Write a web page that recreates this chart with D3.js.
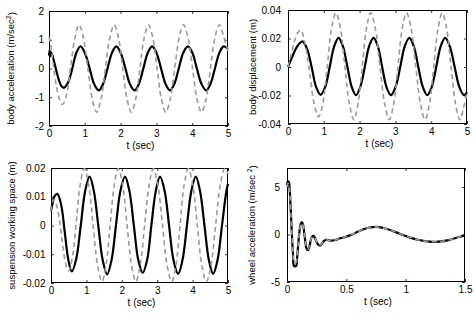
<!DOCTYPE html>
<html><head><meta charset="utf-8">
<script src="https://cdn.jsdelivr.net/npm/d3@7"></script>
<style>body{margin:0;background:#fff}svg{display:block}text{font-family:"Liberation Sans",Arial,sans-serif;fill:#000}</style>
</head><body><svg id="c" width="474" height="315"></svg>
<script>
// ---------- data ----------
const xTicks5 = [0,1,2,3,4,5];
const xTicks15 = [0,0.5,1,1.5];
const yTicksAcc = [-2,-1,0,1,2];
const yTicksDisp = [-0.04,-0.02,0,0.02,0.04];
const yTicksSws = [-0.02,-0.01,0,0.01,0.02];
const yTicksWheel = [-5,0,5];

const accBlack = [[0,0.45],[0.015,0.62],[0.03,0.42],[0.045,0.58],[0.06,0.48],[0.08,0.52],[0.12,0.35],[0.2,-0.05],[0.28,-0.42],[0.35,-0.62],[0.42,-0.67],
[0.535,-0.48],[0.65,0],[0.765,0.55],[0.88,0.77],
[1.0,0.55],[1.135,0],[1.26,-0.54],[1.39,-0.76],
[1.51,-0.54],[1.635,0],[1.76,0.55],[1.88,0.77],
[2.0,0.55],[2.135,0],[2.26,-0.54],[2.39,-0.76],
[2.51,-0.54],[2.635,0],[2.76,0.55],[2.88,0.77],
[3.0,0.55],[3.13,0],[3.255,-0.54],[3.38,-0.76],
[3.5,-0.54],[3.625,0],[3.75,0.55],[3.88,0.77],
[4.005,0.55],[4.13,0],[4.26,-0.54],[4.39,-0.76],
[4.51,-0.54],[4.635,0],[4.76,0.55],[4.88,0.77],
[5,0.68]];
const accGray = [[0,1.1],[0.03,0.95],[0.08,0.55],[0.15,-0.15],[0.22,-0.7],[0.3,-1.1],[0.38,-1.25],
[0.495,-0.88],[0.61,0.1],[0.725,1.07],[0.84,1.52],
[0.96,1.07],[1.085,0],[1.21,-1.07],[1.33,-1.52],
[1.455,-1.07],[1.575,0],[1.70,1.07],[1.82,1.52],
[1.94,1.07],[2.06,0],[2.18,-1.07],[2.30,-1.52],
[2.42,-1.07],[2.54,0],[2.66,1.07],[2.78,1.52],
[2.90,1.07],[3.02,0],[3.14,-1.07],[3.26,-1.52],
[3.385,-1.07],[3.51,0],[3.635,1.07],[3.76,1.52],
[3.885,1.07],[4.01,0],[4.135,-1.07],[4.26,-1.52],
[4.385,-1.07],[4.51,0],[4.635,1.07],[4.76,1.52],
[4.88,1.1],[5,0.6]];

const dispBlack = [[0,0],[0.1,0.006],[0.2,0.012],[0.3,0.016],[0.41,0.018],
[0.535,0.0125],[0.66,0],[0.785,-0.014],[0.91,-0.0195],
[1.04,-0.014],[1.165,0],[1.29,0.0145],[1.415,0.0205],
[1.535,0.0145],[1.66,0],[1.78,-0.014],[1.90,-0.0198],
[2.02,-0.014],[2.145,0],[2.265,0.0145],[2.39,0.0205],
[2.51,0.0145],[2.63,0],[2.75,-0.014],[2.875,-0.0198],
[3.005,-0.014],[3.135,0],[3.26,0.0145],[3.39,0.0205],
[3.515,0.0145],[3.64,0],[3.765,-0.014],[3.89,-0.0198],
[4.015,-0.014],[4.14,0],[4.265,0.0145],[4.39,0.0205],
[4.52,0.0145],[4.655,0],[4.785,-0.014],[4.915,-0.0198],
[5,-0.0175]];
const dispGray = [[0,0],[0.09,0.009],[0.18,0.018],[0.27,0.024],[0.355,0.026],
[0.48,0.016],[0.60,-0.003],[0.725,-0.025],[0.85,-0.035],
[0.97,-0.026],[1.095,0],[1.215,0.027],[1.34,0.038],
[1.465,0.027],[1.59,0],[1.715,-0.026],[1.84,-0.037],
[1.955,-0.026],[2.075,0],[2.19,0.027],[2.31,0.038],
[2.44,0.027],[2.57,0],[2.70,-0.026],[2.83,-0.037],
[2.95,-0.026],[3.07,0],[3.19,0.027],[3.31,0.038],
[3.44,0.027],[3.57,0],[3.70,-0.026],[3.83,-0.037],
[3.95,-0.026],[4.07,0],[4.19,0.027],[4.31,0.038],
[4.43,0.027],[4.555,0],[4.68,-0.026],[4.80,-0.037],
[4.92,-0.027],[5,-0.018]];

const swsBlack = [[0,0.005],[0.05,0.008],[0.1,0.0102],[0.18,0.011],[0.29,0.007],[0.39,-0.0025],[0.49,-0.012],[0.59,-0.016],
[0.715,-0.0115],[0.84,0],[0.965,0.012],[1.09,0.017],
[1.21,0.012],[1.335,0],[1.46,-0.012],[1.585,-0.017],
[1.71,-0.012],[1.835,0],[1.96,0.012],[2.09,0.017],
[2.215,0.012],[2.34,0],[2.465,-0.012],[2.59,-0.0165],
[2.715,-0.012],[2.835,0],[2.96,0.012],[3.08,0.017],
[3.21,0.012],[3.335,0],[3.46,-0.012],[3.59,-0.0168],
[3.715,-0.012],[3.84,0],[3.965,0.012],[4.09,0.017],
[4.21,0.012],[4.335,0],[4.46,-0.012],[4.58,-0.0168],
[4.705,-0.012],[4.83,0],[4.955,0.012],[5,0.0145]];
const swsGray = [[0,0.005],[0.05,0.0085],[0.1,0.009],[0.15,0.0075],[0.25,0.001],[0.33,-0.007],[0.42,-0.0135],[0.5,-0.0158],
[0.61,-0.0106],[0.72,0.002],[0.83,0.0146],[0.94,0.0198],
[1.065,0.014],[1.19,0],[1.315,-0.0138],[1.44,-0.0195],
[1.555,-0.0138],[1.67,0],[1.785,0.014],[1.90,0.0198],
[2.025,0.014],[2.15,0],[2.275,-0.0138],[2.40,-0.0195],
[2.52,-0.0138],[2.645,0],[2.77,0.014],[2.89,0.0198],
[3.02,0.014],[3.15,0],[3.28,-0.0138],[3.41,-0.0195],
[3.53,-0.0138],[3.645,0],[3.76,0.014],[3.88,0.0198],
[4.005,0.014],[4.135,0],[4.26,-0.0138],[4.39,-0.0195],
[4.52,-0.0138],[4.65,0],[4.78,0.014],[4.91,0.0198],[5,0.018]];

const wheelBlack = [[0,5.2],[0.008,5.6],[0.016,5.5],[0.024,4.5],[0.032,2.5],[0.04,0.3],[0.05,-2],[0.058,-3.3],[0.068,-3.35],[0.078,-3.3],[0.085,-2.5],[0.095,-1],[0.105,0.3],[0.115,1.1],[0.125,1.3],[0.135,1.05],[0.145,0.2],[0.155,-0.8],[0.165,-1.5],[0.178,-1.65],[0.19,-1.2],[0.2,-0.6],[0.21,-0.25],[0.222,-0.15],[0.235,-0.35],[0.25,-0.8],[0.265,-1.1],[0.28,-1.15],[0.295,-0.95],[0.31,-0.7],[0.33,-0.55],[0.35,-0.6],[0.375,-0.65],[0.4,-0.6],[0.45,-0.4],[0.5,-0.22],[0.55,0],[0.6,0.32],[0.65,0.58],[0.7,0.75],[0.75,0.8],[0.8,0.72],[0.85,0.55],[0.9,0.33],[0.95,0.08],[1.0,-0.15],[1.05,-0.38],[1.1,-0.55],[1.15,-0.67],[1.2,-0.75],[1.25,-0.77],[1.3,-0.73],[1.35,-0.62],[1.4,-0.45],[1.45,-0.27],[1.5,-0.08]];
const wheelGray = [[0,5.0],[0.008,5.4],[0.016,5.3],[0.024,4.3],[0.032,2.4],[0.04,0.3],[0.05,-1.8],[0.058,-2.9],[0.068,-3.0],[0.078,-2.9],[0.085,-2.3],[0.095,-0.9],[0.105,0.3],[0.115,1.0],[0.125,1.2],[0.135,0.95],[0.145,0.2],[0.155,-0.75],[0.165,-1.4],[0.178,-1.55],[0.19,-1.15],[0.2,-0.6],[0.21,-0.3],[0.222,-0.2],[0.235,-0.38],[0.25,-0.78],[0.265,-1.05],[0.28,-1.1],[0.295,-0.92],[0.31,-0.7],[0.33,-0.56],[0.35,-0.6],[0.375,-0.64],[0.4,-0.6],[0.45,-0.4],[0.5,-0.22],[0.55,0],[0.6,0.32],[0.65,0.58],[0.7,0.75],[0.75,0.8],[0.8,0.72],[0.85,0.55],[0.9,0.33],[0.95,0.08],[1.0,-0.15],[1.05,-0.38],[1.1,-0.55],[1.15,-0.67],[1.2,-0.75],[1.25,-0.77],[1.3,-0.73],[1.35,-0.62],[1.4,-0.45],[1.45,-0.27],[1.5,-0.08]];

// ---------- layout ----------
const panels = [
  {box:[49,11,228,126], xd:[0,5], yd:[-2,2], xt:xTicks5, yt:yTicksAcc, black:accBlack, gray:accGray,
   label:["body acceleration (m/sec","2",")"], lx:10.5, ypad:5},
  {box:[288,10,467,124], xd:[0,5], yd:[-0.04,0.04], xt:xTicks5, yt:yTicksDisp, black:dispBlack, gray:dispGray,
   label:["body displacement (m)"], lx:252.5, ypad:7},
  {box:[51,168,228,283], xd:[0,5], yd:[-0.02,0.02], xt:xTicks5, yt:yTicksSws, black:swsBlack, gray:swsGray,
   label:["suspension working space (m)"], lx:12, ypad:5.5},
  {box:[287,168,465,282], xd:[0,1.5], yd:[-5,7], xt:xTicks15, yt:yTicksWheel, black:wheelBlack, gray:wheelGray,
   label:["wheel acceleration (m/sec ","2",")"], lx:252, ypad:7}
];

const svg = d3.select("#c");
panels.forEach(p => {
  const [x0,y0,x1,y1] = p.box;
  const x = d3.scaleLinear().domain(p.xd).range([x0,x1]);
  const y = d3.scaleLinear().domain(p.yd).range([y1,y0]);
  const g = svg.append("g");
  const fmt = d => String(d);
  const ab = g.append("g").attr("transform",`translate(0,${y1})`)
    .call(d3.axisBottom(x).tickValues(p.xt).tickSize(-3).tickPadding(4).tickFormat(fmt));
  const at = g.append("g").attr("transform",`translate(0,${y0})`)
    .call(d3.axisTop(x).tickValues(p.xt).tickSize(-3).tickFormat(""));
  const al = g.append("g").attr("transform",`translate(${x0},0)`)
    .call(d3.axisLeft(y).tickValues(p.yt).tickSize(-3).tickPadding(p.ypad).tickFormat(fmt));
  const ar = g.append("g").attr("transform",`translate(${x1},0)`)
    .call(d3.axisRight(y).tickValues(p.yt).tickSize(-3).tickFormat(""));
  [ab,at,al,ar].forEach(a => {
    a.select(".domain").remove();
    a.selectAll("line").attr("stroke","#000").attr("stroke-width",0.8);
    a.selectAll("text").style("font-size","10px").attr("fill","#000");
  });
  g.append("rect").attr("x",x0+0.5).attr("y",y0+0.5).attr("width",x1-x0-1).attr("height",y1-y0-1)
    .attr("fill","none").attr("stroke","#000").attr("stroke-width",1);

  const line = d3.line().x(d=>x(d[0])).y(d=>y(d[1])).curve(d3.curveCatmullRom.alpha(0.5));
  g.append("path").attr("d",line(p.black)).attr("fill","none").attr("stroke","#000").attr("stroke-width",2.2);
  g.append("path").attr("d",line(p.gray)).attr("fill","none").attr("stroke","#9a9a9a").attr("stroke-width",1.6)
    .attr("stroke-dasharray","5,3.5");

  g.append("text").attr("x",(x0+x1)/2+2).attr("y",y1+23).attr("text-anchor","middle")
    .style("font-size","10px").text("t (sec)");
  const cy = (y0+y1)/2;
  const t = g.append("text").attr("transform",`translate(${p.lx},${cy}) rotate(-90)`)
    .attr("text-anchor","middle").attr("dy","0.35em").style("font-size","9.5px");
  t.append("tspan").text(p.label[0]);
  if (p.label.length > 1) {
    t.append("tspan").attr("dy","-0.45em").style("font-size","7px").text(p.label[1]);
    t.append("tspan").attr("dy","0.45em").text(p.label[2]);
  }
});
</script></body></html>
